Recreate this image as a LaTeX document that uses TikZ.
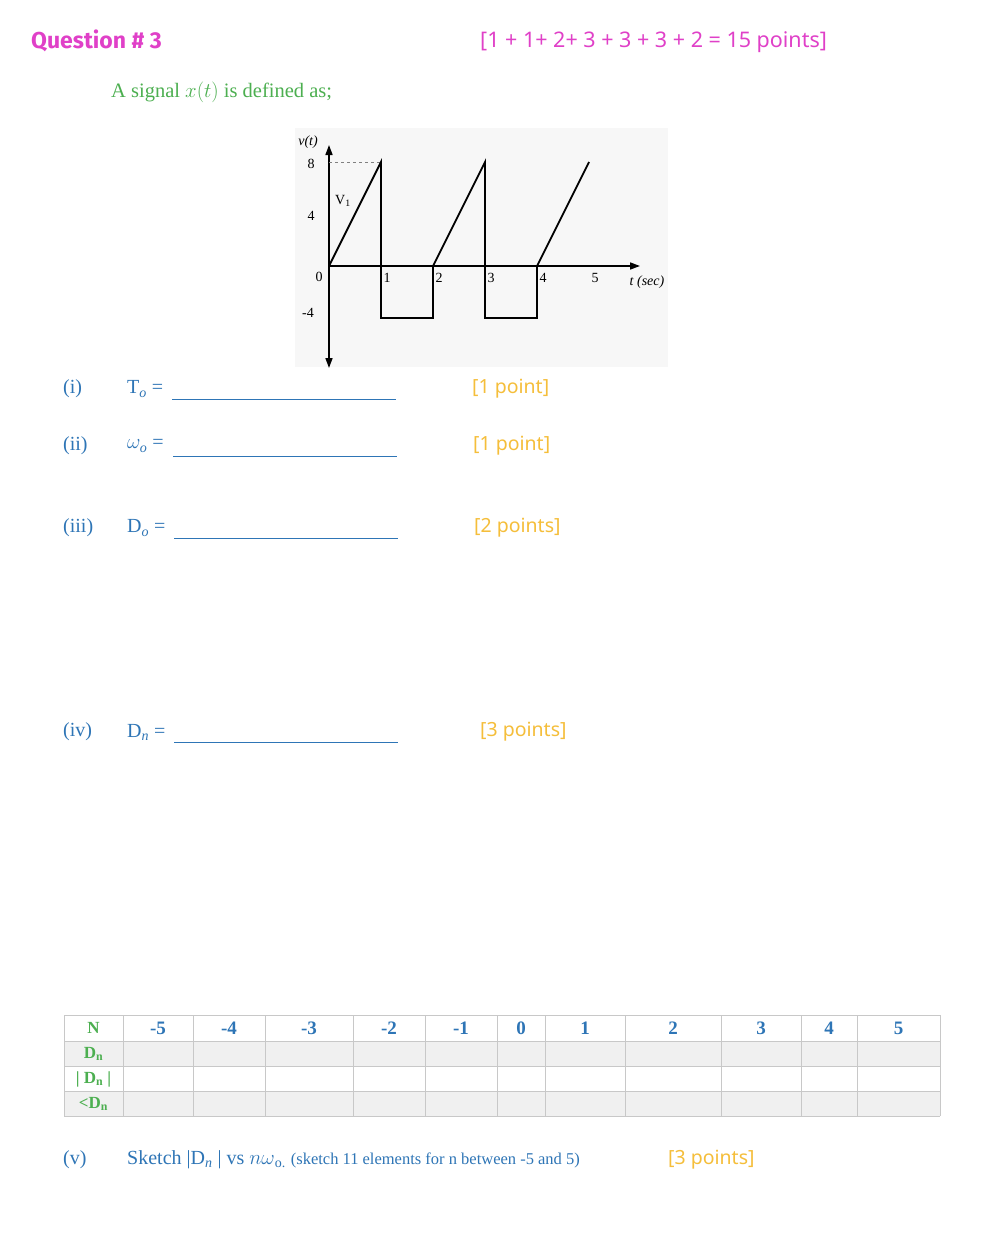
\documentclass[tikz,border=0pt]{standalone}
\usepackage{fontspec}
\setmainfont{Liberation Serif}
\newfontfamily\rsans{Noto Sans}
\newfontfamily\qsans{Fira Sans}
\usetikzlibrary{arrows.meta}
\definecolor{pinkq}{HTML}{E040C8}
\definecolor{greenq}{HTML}{4CAF50}
\definecolor{blueq}{HTML}{2E75B6}
\definecolor{orangeq}{HTML}{F5BE3A}
\definecolor{grayrow}{HTML}{F0F0F0}
\definecolor{gridc}{HTML}{C8C8C8}
\begin{document}
\begin{tikzpicture}[x=1pt,y=-1pt,
 lbl/.style={anchor=west,text=blueq,font=\fontsize{20}{22}\selectfont,inner sep=0},
 pts/.style={anchor=west,text=orangeq,font=\rsans\fontsize{19.5}{22}\selectfont,inner sep=0},
 blank/.style={draw=blueq,line width=0.6pt},
 ax/.style={line width=1.6pt,-{Triangle[length=10pt,width=7pt]}},
 sig/.style={line width=1.8pt},
 tk/.style={font=\fontsize{14}{16}\selectfont,inner sep=1pt},
 th/.style={text=blueq,font=\bfseries\fontsize{19}{21}\selectfont},
 tr/.style={text=greenq,font=\bfseries\fontsize{17}{19}\selectfont}]
\useasboundingbox[fill=white] (0,0) rectangle (988,1242);
\node[anchor=west,text=pinkq,font=\qsans\bfseries\fontsize{23}{26}\selectfont,inner sep=0] (q) at (31,41) {Question \# 3};
\node[anchor=west,text=pinkq,font=\rsans\fontsize{21.5}{24}\selectfont,inner sep=0] (pts0) at (480,42) {[1 + 1+ 2+ 3 + 3 + 3 + 2 = 15 points]};
\node[anchor=west,text=greenq,font=\fontsize{20.5}{23}\selectfont,inner sep=0] (intro) at (111,92) {A signal $x(t)$ is defined as;};
% graph
\fill[white!97!black] (295,128) rectangle (668,367);
\coordinate (o) at (329,266);
\coordinate (ytop) at (329,145);
\coordinate (ybot) at (329,368);
\coordinate (xend) at (640,266);
\draw[ax] (o) -- (ytop);
\draw[ax] (o) -- (ybot);
\draw[ax] (o) -- (xend);
\draw[dashed,line width=1pt,gray] (329,162) -- (381,162);
\draw[sig] (329,266) -- (381,162) -- (381,318) -- (433,318) -- (433,266) -- (485,162) -- (485,318) -- (537,318) -- (537,266) -- (589,162);
\node[tk] (vt) at (308,142) {\itshape v(t)};
\node[tk] (y8) at (311,164) {8};
\node[tk] (y4) at (311,216) {4};
\node[tk] (y0) at (319,277) {0};
\node[tk] (ym4) at (308,313) {-4};
\node[tk] (v1) at (343,201) {V\textsubscript{1}};
\node[tk] (t1) at (387,278) {1};
\node[tk] (t2) at (439,278) {2};
\node[tk] (t3) at (491,278) {3};
\node[tk] (t4) at (543,278) {4};
\node[tk] (t5) at (595,278) {5};
\node[tk] (ts) at (647,282) {\itshape t (sec)};
% questions
\node[lbl] (i) at (63,389) {(i)};
\node[lbl] (To) at (127,389) {T$_{\mathit{o}}$ =};
\draw[blank] (172,399) -- (396,399);
\node[pts] (p1) at (472,389) {[1 point]};
\node[lbl] (ii) at (63,446) {(ii)};
\node[lbl] (wo) at (127,446) {$\omega_{\mathit{o}}$ =};
\draw[blank] (173,456) -- (397,456);
\node[pts] (p2) at (473,446) {[1 point]};
\node[lbl] (iii) at (63,528) {(iii)};
\node[lbl] (Do) at (127,528) {D$_{\mathit{o}}$ =};
\draw[blank] (174,538) -- (398,538);
\node[pts] (p3) at (474,528) {[2 points]};
\node[lbl] (iv) at (63,732) {(iv)};
\node[lbl] (Dn) at (127,732) {D$_{\mathit{n}}$ =};
\draw[blank] (174,742) -- (398,742);
\node[pts] (p4) at (480,732) {[3 points]};
% table
\fill[grayrow] (64,1041) rectangle (940,1066);
\fill[grayrow] (64,1091) rectangle (940,1116);
\foreach \y in {1015,1041,1066,1091,1116} \draw[gridc,line width=0.8pt] (64,\y) -- (940,\y);
\foreach \x in {64,123,193,265,353,425,497,545,625,721,801,857,940} \draw[gridc,line width=0.8pt] (\x,1015) -- (\x,1116);
\node[tr] (hN) at (93.5,1028) {N};
\foreach \a/\b/\t [count=\k] in {123/193/-5,193/265/-4,265/353/-3,353/425/-2,425/497/-1,497/545/0,545/625/1,625/721/2,721/801/3,801/857/4,857/940/5}
  \node[th] (h\k) at ({(\a+\b)/2},1028) {\t};
\node[tr] (rD) at (93.5,1054) {D\textsubscript{n}};
\node[tr] (rA) at (93.5,1079) {| D\textsubscript{n} |};
\node[tr] (rP) at (93.5,1104) {<D\textsubscript{n}};
% (v)
\node[lbl] (v) at (63,1160) {(v)};
\node[lbl] (sk) at (127,1160) {Sketch |D$_{\mathit{n}}$ | vs $n\omega$\textsubscript{o.} {\fontsize{16.5}{18}\selectfont(sketch 11 elements for n between -5 and 5)}};
\node[pts] (p5) at (668,1160) {[3 points]};
\end{tikzpicture}
\end{document}
